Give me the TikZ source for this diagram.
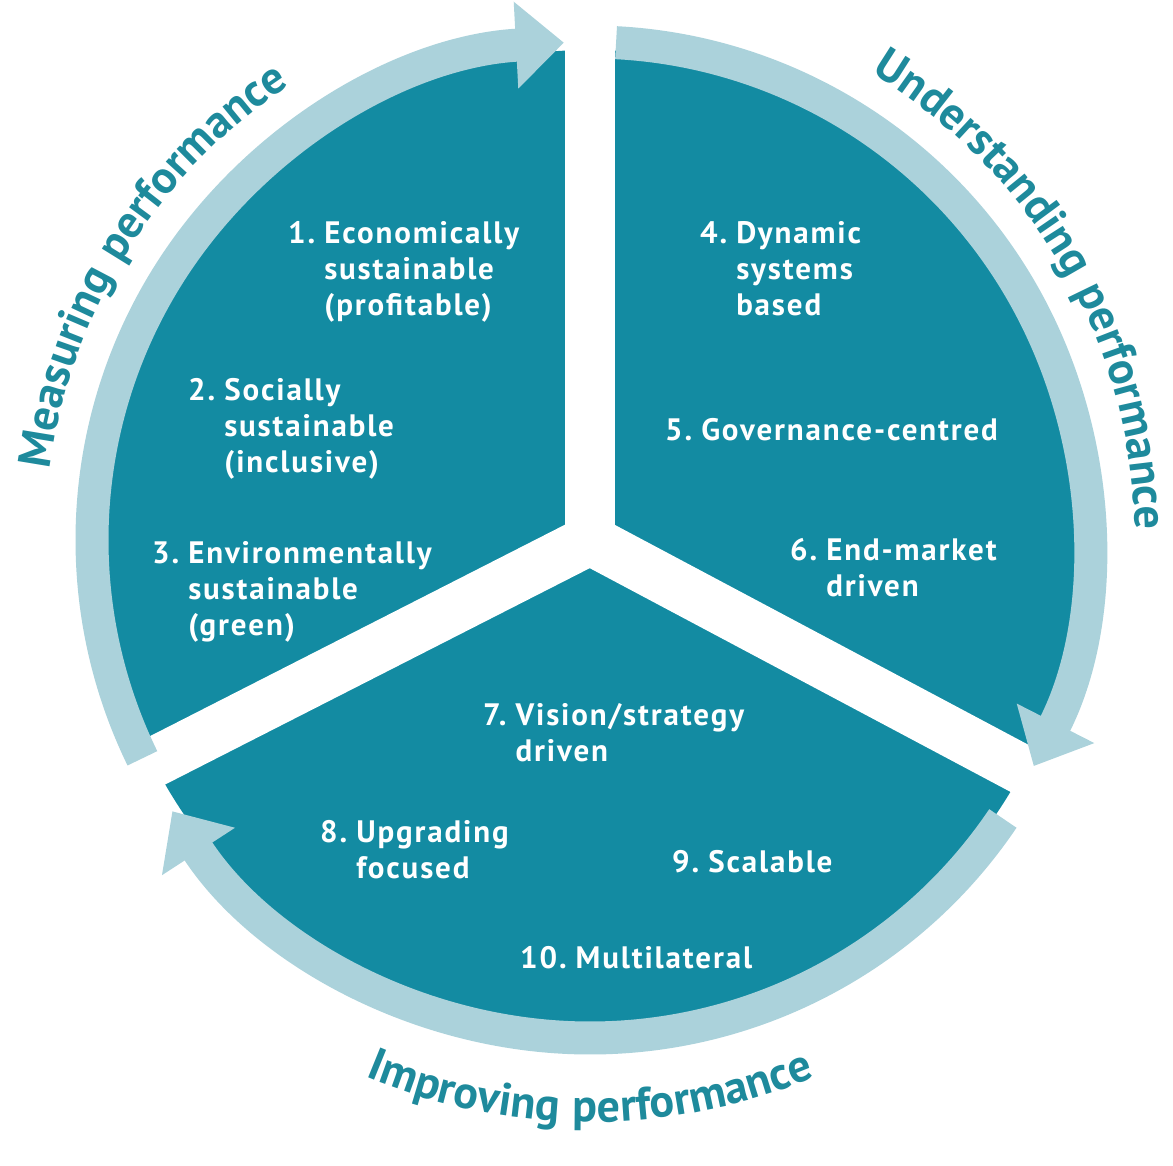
\documentclass[tikz,border=0pt]{standalone}
\usepackage{fontspec}
\setmainfont{PT Sans}
\usetikzlibrary{arrows.meta,decorations.text}
\definecolor{teal1}{HTML}{138BA2}
\definecolor{ringc}{HTML}{ABD2DB}
\definecolor{labc}{HTML}{1E8A9C}
\newcommand{\itemfont}{\fontsize{31}{36}\selectfont\bfseries\addfontfeatures{LetterSpace=6}}
\newcommand{\labfont}{\fontsize{46}{46}\selectfont\bfseries\addfontfeatures{LetterSpace=5}\color{labc}}
\tikzset{
  ring/.style={draw=ringc,line width=33pt,-{Triangle[width=84pt,length=48pt]}},
  spoke/.style={draw=white,line width=50pt},
  itm/.style={anchor=north west,text=white,font=\itemfont,inner sep=0pt},
  arclab/.style={decorate,decoration={text along path,text align=center,text={#1}}}
}
\newcommand{\lst}[1]{\begin{tabular}{@{}l@{\hspace{9pt}}l@{}}#1\end{tabular}}
\begin{document}
\begin{tikzpicture}[x=1pt,y=1pt]
\useasboundingbox (0,0) rectangle (1173,1165);
\coordinate (c) at (590,625);
\fill[teal1] (c) circle[radius=490];
\draw[spoke] (c) -- ++(90:520);
\draw[spoke] (c) -- ++(207:520);
\draw[spoke] (c) -- ++(332:520);
\fill[white] (c) circle[radius=25];
\draw[ring] (c) ++(206:498) arc[start angle=206,end angle=93,radius=498];
\draw[ring] (c) ++(87:498) arc[start angle=87,end angle=-27,radius=498];
\draw[ring] (c) ++(-34:498) arc[start angle=-34,end angle=-147,radius=498];
\path[arclab={|\labfont|Measuring performance}] (c) ++(205:545) arc[start angle=205,end angle=91,radius=545];
\path[arclab={|\labfont|Understanding performance}] (c) ++(88:545) arc[start angle=88,end angle=-28,radius=545];
\path[arclab={|\labfont|Improving performance}] (c) ++(215:582) arc[start angle=215,end angle=325,radius=582];
\node[itm] (i1) at (288,947) {\lst{1.&Economically\\&sustainable\\&(profitable)}};
\node[itm] (i2) at (188,790) {\lst{2.&Socially\\&sustainable\\&(inclusive)}};
\node[itm] (i3) at (152,627) {\lst{3.&Environmentally\\&sustainable\\&(green)}};
\node[itm] (i4) at (700,947) {\lst{4.&Dynamic\\&systems\\&based}};
\node[itm] (i5) at (665,750) {\lst{5.&Governance-centred}};
\node[itm] (i6) at (790,630) {\lst{6.&End-market\\&driven}};
\node[itm] (i7) at (483,465) {\lst{7.&Vision/strategy\\&driven}};
\node[itm] (i8) at (320,348) {\lst{8.&Upgrading\\&focused}};
\node[itm] (i9) at (672,318) {\lst{9.&Scalable}};
\node[itm] (i10) at (520,222) {\lst{10.&Multilateral}};
\end{tikzpicture}
\end{document}
